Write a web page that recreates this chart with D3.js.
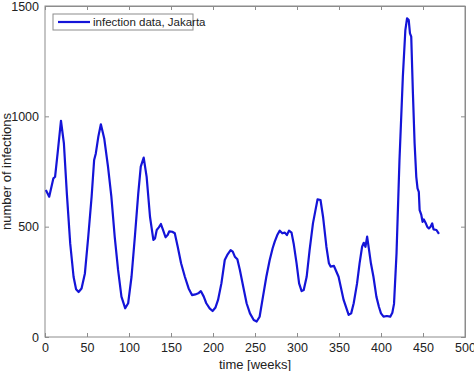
<!DOCTYPE html>
<html>
<head>
<meta charset="utf-8">
<script src="https://cdn.jsdelivr.net/npm/d3@7"></script>
<style>
  body { margin: 0; background: #fff; }
  text { font-family: "Liberation Sans", Arial, sans-serif; }
</style>
</head>
<body>
<div id="chart"></div>
<script>
// weekly infection counts, Jakarta
var weeks = [
  1, 5, 10, 12, 15, 19, 22.5, 26, 30, 34,
  37, 40, 43.5, 47.5, 51.5, 55.5, 58.5, 60.5, 63.5, 66.5,
  70.5, 75, 79, 83, 87, 91, 95.5, 99, 103, 107,
  111, 114, 117.5, 121, 125, 129, 131, 133, 135.5, 138,
  140.5, 143.5, 146, 148, 151.5, 154.5, 158, 162, 166.5, 171,
  175, 179, 182.5, 185.5, 189, 192, 196, 199.5, 203, 206,
  210, 214, 217, 221, 223.5, 226, 229, 232, 236, 240,
  244, 248.5, 252, 255.5, 259.5, 263.5, 267.5, 271, 273.5, 276.5,
  279.5, 282.5, 285.5, 288, 290.5, 293.5, 296, 299.5, 302.5, 305.5,
  308, 311.5, 315, 319, 322, 324.5, 328, 331, 335, 338,
  340, 344, 349.5, 355.5, 361.5, 364.5, 367.5, 371.5, 374.5, 377.5,
  379.5, 381.5, 383.5, 385.5, 388, 391, 394.5, 397.5, 400, 403,
  407, 411, 413.5, 415.5, 418.5, 422, 426, 429, 431, 433,
  434.5, 436, 438, 440, 442, 443.5, 445, 446, 448, 449.5,
  451, 453, 455, 457, 459, 461, 462.5, 466, 469
];
var infections = [
  666, 636, 719, 726, 832, 980, 877, 651, 424, 273,
  216, 204, 220, 288, 455, 636, 802, 832, 908, 964,
  900, 772, 636, 454, 304, 183, 130, 153, 273, 455,
  650, 772, 813, 726, 545, 440, 447, 485, 497, 512,
  485, 452, 462, 479, 477, 470, 409, 334, 273, 220,
  190, 193, 198, 208, 183, 153, 130, 118, 134, 168,
  243, 349, 372, 394, 387, 364, 352, 304, 228, 153,
  107, 77, 70, 92, 183, 273, 349, 402, 432, 462,
  482, 470, 473, 462, 482, 473, 424, 334, 243, 208,
  213, 273, 394, 515, 575, 624, 621, 545, 409, 334,
  319, 322, 273, 168, 100, 107, 153, 243, 334, 409,
  427, 409, 455, 402, 334, 273, 183, 137, 107, 92,
  95, 92, 110, 150, 380, 802, 1179, 1391, 1444, 1436,
  1376, 1361, 1104, 878, 726, 674, 658, 575, 553, 522,
  533, 518, 500, 492, 500, 515, 488, 485, 467
];
var xTicks = [0, 50, 100, 150, 200, 250, 300, 350, 400, 450, 500];
var yTicks = [0, 500, 1000, 1500];
var seriesName = 'infection data, Jakarta';

var W = 474, H = 371;
var margin = { top: 6, right: 9, bottom: 34, left: 45 };
var width = W - margin.left - margin.right;
var height = H - margin.top - margin.bottom;

var svg = d3.select('#chart').append('svg').attr('width', W).attr('height', H);
var g = svg.append('g').attr('transform', 'translate(' + margin.left + ',' + margin.top + ')');

var x = d3.scaleLinear().domain([0, 500]).range([0, width]);
var y = d3.scaleLinear().domain([0, 1500]).range([height, 0]);

var axisColor = '#8c8c8c';
var fmt = d3.format('d');

// axes, MATLAB style: ticks pointing inward, box all round
var xAxis = g.append('g').attr('transform', 'translate(0,' + height + ')')
  .call(d3.axisBottom(x).tickValues(xTicks).tickSize(-4).tickPadding(6).tickFormat(fmt));
var yAxis = g.append('g')
  .call(d3.axisLeft(y).tickValues(yTicks).tickSize(-4).tickPadding(6).tickFormat(fmt));
g.append('g').call(d3.axisTop(x).tickValues(xTicks).tickSize(-4).tickFormat(''));
g.append('g').attr('transform', 'translate(' + width + ',0)')
  .call(d3.axisRight(y).tickValues(yTicks).tickSize(-4).tickFormat(''));

g.selectAll('.domain').attr('stroke', axisColor);
g.selectAll('.tick line').attr('stroke', axisColor);
g.selectAll('.tick text').attr('fill', '#222').style('font-size', '12.5px')
  .style('font-family', '"Liberation Sans", Arial, sans-serif');
xAxis.selectAll('.domain').remove();
yAxis.selectAll('.domain').remove();
g.append('rect').attr('width', width).attr('height', height)
  .attr('fill', 'none').attr('stroke', axisColor).attr('stroke-width', 1);

var data = weeks.map(function(w, i) { return [w, infections[i]]; });
var line = d3.line().x(function(d) { return x(d[0]); }).y(function(d) { return y(d[1]); });

g.append('path').datum(data)
  .attr('d', line)
  .attr('fill', 'none')
  .attr('stroke', '#1414d8')
  .attr('stroke-width', 2.2)
  .attr('stroke-linejoin', 'round');

// labels
svg.append('text')
  .attr('x', margin.left + width / 2).attr('y', H - 2)
  .attr('text-anchor', 'middle').style('font-size', '13px').attr('fill', '#222')
  .text('time [weeks]');
svg.append('text')
  .attr('transform', 'translate(11,' + (margin.top + height / 2) + ') rotate(-90)')
  .attr('text-anchor', 'middle').style('font-size', '13px').attr('fill', '#222')
  .text('number of infections');

// legend
var lg = g.append('g').attr('transform', 'translate(8,8)');
lg.append('rect').attr('width', 140).attr('height', 16)
  .attr('fill', '#fff').attr('stroke', axisColor);
lg.append('line').attr('x1', 5).attr('x2', 37).attr('y1', 8).attr('y2', 8)
  .attr('stroke', '#1414d8').attr('stroke-width', 2.2);
lg.append('text').attr('x', 40).attr('y', 12)
  .style('font-size', '11.5px').attr('fill', '#222').text(seriesName);
</script>
</body>
</html>
